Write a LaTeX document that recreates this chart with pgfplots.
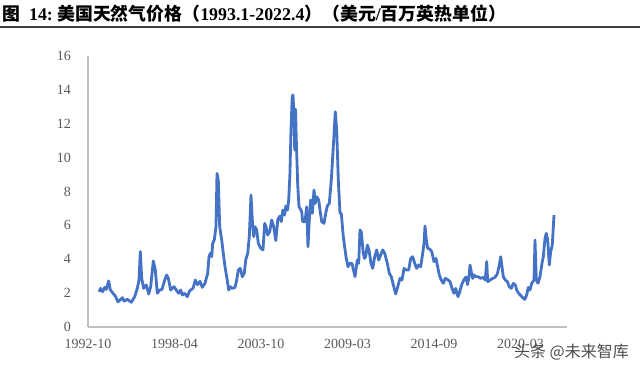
\documentclass[border=0pt]{standalone}
\usepackage{fontspec}
\setmainfont{Liberation Serif}
\newfontfamily\cjk{Noto Sans CJK SC}
\usepackage{pgfplots}
\pgfplotsset{compat=1.18}
\definecolor{lineblue}{HTML}{4472C4}
\definecolor{axgray}{HTML}{BFBFBF}
\definecolor{lblgray}{HTML}{595959}
\begin{document}
\begin{tikzpicture}
\path[use as bounding box] (0,0) rectangle (480pt,278.25pt);
\node[anchor=west,inner sep=0pt] at (1.5pt,268pt) {\fontsize{13.4pt}{15pt}\selectfont{\cjk\bfseries 图}\ \ {\bfseries 14:}\ {\cjk\bfseries 美国天然气价格（}{\bfseries 1993.1-2022.4}{\cjk\bfseries ）（美元}{\bfseries /}{\cjk\bfseries 百万英热单位）}};
\draw[line width=1.4pt,color=black!75] (0,258.2pt) -- (480pt,258.2pt);
\begin{axis}[
  at={(66pt,33pt)}, anchor=south west,
  width=359.25pt, height=203.25pt, scale only axis,
  xmin=88, xmax=567, ymin=0, ymax=16,
  axis x line=bottom, axis y line=left,
  axis line style={draw=axgray,line width=0.9pt,-},
  major tick length=0pt,
  xtick={88,174.5,261,347.5,434,520.5},
  xticklabels={1992-10,1998-04,2003-10,2009-03,2014-09,2020-03},
  ytick={0,2,4,6,8,10,12,14,16},
  tick label style={font=\fontsize{10.5pt}{12pt}\selectfont, text=lblgray},
  /pgf/number format/assume math mode=true,
  yticklabel style={xshift=-9.4pt},
  xticklabel style={yshift=-5.9pt},
  clip=false,
]
\addplot[lineblue, line width=2.1pt, line join=round] coordinates {
(99,2.08)(100.7,2.28)(102.7,2.08)(104.7,2.34)(106.3,2.22)(108.7,2.72)(110.3,2.20)(113,1.99)(115.3,1.83)(118,1.49)
(120.7,1.63)(122.3,1.73)(124,1.53)(127.3,1.63)(131.3,1.46)(134.7,1.79)(137.3,2.28)(139,2.77)(140.3,4.45)(141.7,2.87)
(143.7,2.28)(146.3,2.48)(148.7,1.95)(150.7,2.38)(153.3,3.90)(155.3,3.37)(157.3,1.99)(159.7,2.18)(162,2.22)(164.7,2.77)
(166.7,3.07)(168.3,2.87)(170.7,2.18)(174,2.38)(176.3,2.18)(178.7,1.99)(180.7,2.18)(182.3,1.89)(184.7,1.99)(187.3,1.79)
(189.7,2.14)(193,2.28)(195.3,2.77)(197.5,2.50)(200,2.70)(202.3,2.34)(205,2.58)(207.7,3.17)(209,4.15)(210.3,4.35)
(211.7,4.15)(212.7,4.94)(214.3,5.14)(216,5.92)(217,9.07)(218.3,8.68)(219.7,5.92)(221.7,5.14)(223.3,4.35)(225,3.56)
(226.7,2.97)(228.7,2.18)(230.3,2.38)(232.3,2.28)(235,2.34)(236.7,2.77)(238.3,3.37)(240.3,3.46)(242.3,2.97)(244.3,3.17)
(245.7,3.95)(247.7,4.35)(249.3,5.33)(251,7.79)(252.3,6.32)(253.7,5.33)(255,5.92)(256.7,5.73)(258.3,4.94)(260.7,4.65)
(263,4.55)(264.7,6.12)(266,5.92)(267.7,5.43)(269.7,5.63)(271.7,6.32)(273.7,5.92)(275.8,5.10)(277.8,6.35)(279.8,6.55)
(281.3,6.22)(282.9,6.9)(284.5,6.61)(285.9,7.15)(287.5,6.9)(288.7,7.5)(289.9,9.0)(291,11.63)(292.2,13.6)(293,13.7)
(294,12.41)(294.7,10.45)(295.5,12.85)(296.5,10.64)(297.7,8.4)(299,7.1)(300.5,6.95)(301.7,6.81)(302.7,6.22)(305,6.22)
(306.7,7.1)(308,4.74)(309.3,6.32)(310.7,7.5)(312.3,6.71)(314,8.09)(315.3,7.3)(316.7,7.69)(318.7,7.5)(320,6.91)
(321.7,6.22)(324,6.12)(325.7,6.71)(327.3,7.14)(329.3,7.3)(331.3,8.68)(333.3,10.64)(335.3,12.71)(336.7,11.63)(338.3,8.68)
(340,6.71)(341.3,6.71)(343.3,5.33)(346,4.15)(348,3.56)(350,3.76)(352,3.76)(355,2.97)(357.3,3.95)(358.7,3.76)
(360,5.73)(361.3,5.6)(363.3,4.35)(364.5,4.05)(365.7,4.15)(367.3,4.84)(369,4.55)(371,3.76)(372.7,3.46)(374.7,4.15)
(376.7,4.55)(378.7,3.95)(380.7,4.25)(382.7,4.55)(384.7,4.35)(387.3,3.76)(389.3,3.17)(391.3,2.97)(393.3,2.48)(395.7,1.95)
(397.3,2.28)(400,2.87)(402,2.77)(404,3.46)(406,3.37)(408.7,3.37)(410.7,4.05)(412.7,4.15)(414.7,3.76)(416.7,3.46)
(418.7,3.66)(420.7,3.56)(422.7,4.35)(424,4.94)(425,5.96)(426.3,5.14)(427.7,4.65)(430,4.59)(431.7,4.45)(434,3.86)
(436,4.05)(437.3,3.66)(439.3,3.07)(441.3,2.77)(443.3,2.58)(445.3,2.87)(447.3,2.81)(450,2.68)(452,2.28)(454,1.99)
(455.7,2.28)(458,1.79)(459.3,1.99)(461.7,2.5)(464,2.8)(466,2.95)(467.5,2.5)(469,2.97)(470,3.66)(471.3,3.26)
(472.7,2.87)(474,3.07)(476,2.97)(478.3,2.97)(480.7,2.87)(483.3,2.93)(485.3,2.77)(486.7,3.86)(487.7,2.68)(490,2.77)
(492.7,2.87)(495,2.93)(497.3,3.13)(499.3,3.66)(500.7,4.15)(502,3.56)(503.3,2.97)(505.3,2.77)(507.3,2.68)(509.3,2.38)
(511.3,2.28)(513.3,2.58)(515.3,2.48)(516.7,2.18)(518.7,1.99)(521.7,1.79)(524.7,1.63)(526.7,1.89)(528.3,2.34)(530,2.18)
(531.7,2.58)(534,2.77)(535,5.14)(536.3,2.77)(538,2.58)(540,2.97)(542,3.76)(543.3,4.15)(545,5.24)(546.3,5.53)
(547.7,5.14)(549.3,3.66)(550.7,4.45)(552.3,4.84)(554,6.61)
};
\end{axis}
\node[inner sep=0pt,text=black!70] at (428.6pt,14.25pt) {\fontsize{12pt}{14pt}\selectfont\cjk 头条 @未来智库};
\end{tikzpicture}
\end{document}
